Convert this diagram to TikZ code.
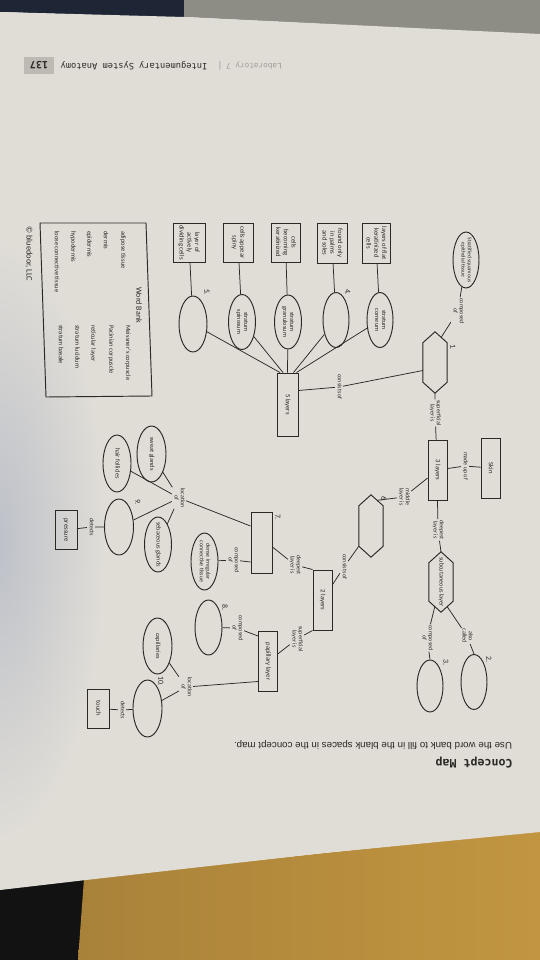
\documentclass[tikz,border=0pt]{standalone}
\usepackage{fontspec}
\usepackage{graphicx}
\setmainfont{Carlito}
\newfontfamily\monof{DejaVu Sans Mono}
\newfontfamily\sansf{Liberation Sans}
\usetikzlibrary{shapes.geometric,calc}
\definecolor{navyc}{HTML}{1E2636}
\definecolor{grayc}{HTML}{8D8C85}
\definecolor{blackc}{HTML}{121212}
\definecolor{woodA}{HTML}{A9823A}
\definecolor{woodB}{HTML}{C29640}
\definecolor{pageM}{HTML}{E0DDD7}
\definecolor{shadowc}{HTML}{BCC0C8}
\definecolor{inkc}{HTML}{2B2926}
\definecolor{pnc}{HTML}{BDBAB3}
\definecolor{labgray}{HTML}{A09D98}
\newcommand{\rtxt}[1]{\rotatebox{-90}{\begin{tabular}{@{}c@{}}#1\end{tabular}}}
\newcommand{\ztxt}[1]{\makebox[0pt][c]{\smash{\raisebox{\dimexpr(\depth-\height)/2\relax}{\rtxt{#1}}}}}
\newcommand{\hexdraw}[1]{\draw[shp] (#1.north) -- ([yshift=-11pt]#1.north east) -- ([yshift=11pt]#1.south east) -- (#1.south) -- ([yshift=11pt]#1.south west) -- ([yshift=-11pt]#1.north west) -- cycle;}
\tikzset{
 ln/.style={draw=inkc, line width=0.75pt},
 shp/.style={draw=inkc, line width=0.95pt},
 bx/.style={shp, rectangle, inner sep=0pt, font=\fontsize{6.6}{7.8}\selectfont, text=inkc},
 ov/.style={shp, ellipse, inner sep=0pt, font=\fontsize{6.3}{6.8}\selectfont, text=inkc},
 hx/.style={rectangle, inner sep=0pt, font=\fontsize{6.3}{7}\selectfont, text=inkc},
 lb/.style={inner sep=0.8pt, font=\fontsize{6}{6.2}\selectfont, text=inkc},
 num/.style={inner sep=0pt, font=\fontsize{7.8}{8}\selectfont, text=inkc},
 wb/.style={rotate=-90, anchor=west, inner sep=0pt, font=\fontsize{6.5}{7}\selectfont, text=inkc},
}
\begin{document}
\begin{tikzpicture}[x=1pt,y=-1pt]
\useasboundingbox (0,0) rectangle (540,960);
% ---------- background ----------
\fill[navyc] (0,0) -- (186,0) -- (186,18) -- (0,12) -- cycle;
\fill[grayc] (184,0) -- (540,0) -- (540,35) -- (184,17) -- cycle;
\fill[blackc] (0,886) -- (88,878) -- (80,960) -- (0,960) -- cycle;
\shade[left color=woodA, right color=woodB] (84,879) -- (324,853) -- (540,831) -- (540,960) -- (78,960) -- cycle;
\begin{scope}
\clip (0,12) -- (184,17) -- (540,34) -- (540,832) -- (324,853) -- (86,880) -- (0,890) -- cycle;
\fill[pageM] (0,0) rectangle (540,960);
\shade[inner color=shadowc, outer color=pageM] (-5,540) ellipse (110 and 300);
\end{scope}
% ---------- header ----------
\node[fill=pnc, minimum width=30pt, minimum height=17pt, inner sep=0pt, rotate=180, text=inkc, font=\monof\bfseries\fontsize{10}{10}\selectfont] (pg) at (39,65.5) {137};
\node[rotate=180, inner sep=0pt, text=inkc, font=\monof\fontsize{8.7}{9}\selectfont] (hdr) at (134,66) {Integumentary System Anatomy};
\node[rotate=180, inner sep=0pt, text=labgray, font=\monof\fontsize{8.7}{9}\selectfont] (bar) at (220,66) {|};
\node[rotate=180, inner sep=0pt, text=labgray, font=\monof\fontsize{7.7}{8}\selectfont] (lab) at (254,66) {Laboratory 7};
\node[rotate=180, inner sep=0pt, text=inkc] (title) at (474,763) {\resizebox{77pt}{!}{\monof\bfseries Concept Map}};
\node[rotate=180, inner sep=0pt, text=inkc] (instr) at (373,745) {\resizebox{278pt}{!}{\sansf Use the word bank to fill in the blank spaces in the concept map.}};
\node[rotate=-90, inner sep=0pt, text=inkc, font=\fontsize{8.4}{9}\selectfont] (copy) at (29,254) {© bluedoor, LLC};
% ---------- word bank ----------
\draw[shp] (40,223) -- (146,223) -- (152,396) -- (46,397) -- cycle;
\node[rotate=-90, inner sep=0pt, text=inkc, font=\fontsize{8}{8}\selectfont] (wbt) at (139,305) {Word Bank};
\node[wb] (w1) at (123,231) {adipose tissue};
\node[wb] (w2) at (106,231) {dermis};
\node[wb] (w3) at (89,231) {epidermis};
\node[wb] (w4) at (73,231) {hypodermis};
\node[wb] (w5) at (57,231) {loose connective tissue};
\node[wb] (w6) at (128,325) {Meissner's corpuscle};
\node[wb] (w7) at (111,325) {Pacinian corpuscle};
\node[wb] (w8) at (93,325) {reticular layer};
\node[wb] (w9) at (77.5,325) {stratum lucidum};
\node[wb] (w10) at (61,325) {stratum basale};
% ---------- top of map ----------
\node[bx, minimum width=19pt, minimum height=60pt] (skin) at (490.5,468) {\ztxt{Skin}};
\node[bx, minimum width=19pt, minimum height=60pt] (box3) at (437.5,470) {\ztxt{3 layers}};
\node[lb] (lmade) at (465,466) {\rtxt{made up of}};
\node[hx, minimum width=24pt, minimum height=61pt] (hex1) at (435,362.5) {};
\hexdraw{hex1}
\node[num] (n1) at (452,347) {\rtxt{1.}};
\node[lb] (lsup1) at (435,413) {\rtxt{superficial\\layer is}};
\node[ov, minimum width=26pt, minimum height=56pt, font=\fontsize{5.5}{6.2}\selectfont] (sq) at (466,260) {\ztxt{Stratified squamous\\epithelial tissue}};
\node[lb] (lcomp1) at (458,311) {\rtxt{composed\\of}};
\node[lb] (lcons1) at (339,387) {\rtxt{consists of}};
\node[bx, minimum width=21pt, minimum height=63pt] (box5) at (287.5,404.5) {\ztxt{5 layers}};
% ovals of the epidermis
\node[ov, minimum width=28pt, minimum height=56pt] (o5) at (193,324) {};
\node[ov, minimum width=27pt, minimum height=55pt] (osp) at (242,322) {\ztxt{stratum\\spinosum}};
\node[ov, minimum width=27pt, minimum height=54pt] (ogr) at (288,322) {\ztxt{stratum\\granulosum}};
\node[ov, minimum width=26pt, minimum height=55pt] (o4) at (336,320) {};
\node[ov, minimum width=26pt, minimum height=55pt] (oco) at (380,320) {\ztxt{stratum\\corneum}};
\node[num] (n5) at (206,292) {\rtxt{5.}};
\node[num] (n4) at (347,292) {\rtxt{4.}};
% description boxes
\node[bx, minimum width=32pt, minimum height=39pt] (b5) at (189,242.5) {\ztxt{layer of\\actively\\dividing cells}};
\node[bx, minimum width=30pt, minimum height=39pt] (bsp) at (238,242.5) {\ztxt{cells appear\\spiny}};
\node[bx, minimum width=29pt, minimum height=39pt] (bgr) at (285.5,242.5) {\ztxt{cells\\becoming\\keratinized}};
\node[bx, minimum width=30pt, minimum height=40pt] (b4) at (332,243) {\ztxt{found only\\in palms\\and soles}};
\node[bx, minimum width=28pt, minimum height=40pt] (bco) at (376,243) {\ztxt{layers of flat\\keratinized\\cells}};
% middle layer
\node[lb] (lmid) at (404,497) {\rtxt{middle\\layer is}};
\node[hx, minimum width=24pt, minimum height=62pt] (hex6) at (371,526) {};
\hexdraw{hex6}
\node[num] (n6) at (383,499) {\rtxt{6.}};
\node[lb] (lcons2) at (344,567) {\rtxt{consists of}};
\node[bx, minimum width=19pt, minimum height=60pt] (box2) at (322.5,600) {\ztxt{2 layers}};
% deepest layer
\node[lb] (ldeep1) at (438,530) {\rtxt{deepest\\layer is}};
\node[hx, minimum width=24pt, minimum height=60pt] (hexS) at (441,582) {\ztxt{subcutaneous layer}};
\hexdraw{hexS}
\node[lb] (lalso) at (467,636) {\rtxt{also\\called}};
\node[ov, minimum width=26pt, minimum height=55pt] (o2) at (474,682) {};
\node[num] (n2) at (488,659) {\rtxt{2.}};
\node[lb] (lcomp2) at (427,638) {\rtxt{composed\\of}};
\node[ov, minimum width=26pt, minimum height=52pt] (o3) at (430,686) {};
\node[num] (n3) at (445,662) {\rtxt{3.}};
% reticular branch
\node[lb] (ldeep2) at (295,565) {\rtxt{deepest\\layer is}};
\node[bx, minimum width=21pt, minimum height=61pt] (box7) at (261.5,543) {};
\node[num] (n7) at (277,517) {\rtxt{7.}};
\node[lb] (lcomp3) at (233,560) {\rtxt{composed\\of}};
\node[ov, minimum width=27pt, minimum height=57pt, font=\fontsize{5.9}{6.5}\selectfont] (dense) at (204.5,561.5) {\ztxt{dense irregular\\connective tissue}};
\node[lb] (lloc1) at (179,498) {\rtxt{location\\of}};
\node[ov, minimum width=29pt, minimum height=56pt] (sweat) at (151.5,454) {\ztxt{sweat glands}};
\node[ov, minimum width=28pt, minimum height=57pt] (hair) at (117,463.5) {\ztxt{hair follicles}};
\node[ov, minimum width=29pt, minimum height=56pt] (o9) at (119,527) {};
\node[num] (n9) at (137,502) {\rtxt{9.}};
\node[ov, minimum width=27pt, minimum height=55pt] (seb) at (158,544.5) {\ztxt{sebaceous glands}};
\node[lb] (ldet1) at (91,527) {\rtxt{detects}};
\node[bx, minimum width=22pt, minimum height=39pt] (press) at (66,530) {\ztxt{pressure}};
% papillary branch
\node[lb] (lsup2) at (297,639) {\rtxt{superficial\\layer is}};
\node[bx, minimum width=19pt, minimum height=60pt] (pap) at (268,661.5) {\ztxt{papillary layer}};
\node[lb] (lcomp4) at (237,628) {\rtxt{composed\\of}};
\node[ov, minimum width=27pt, minimum height=55pt] (o8) at (208.5,627.5) {};
\node[num] (n8) at (224,607) {\rtxt{8.}};
\node[lb] (lloc2) at (186,687) {\rtxt{location\\of}};
\node[ov, minimum width=29pt, minimum height=56pt] (cap) at (157.5,646) {\ztxt{capillaries}};
\node[ov, minimum width=29pt, minimum height=57pt] (o10) at (147.5,708.5) {};
\node[num] (n10) at (160,681) {\rtxt{10.}};
\node[lb] (ldet2) at (122,710) {\rtxt{detects}};
\node[bx, minimum width=22pt, minimum height=39pt] (touch) at (98,708.5) {\ztxt{touch}};
% ---------- connectors ----------
\draw[ln] (sq) -- (lcomp1);
\draw[ln] (lcomp1) -- ([xshift=-6pt,yshift=-5.5pt]hex1.north east);
\draw[ln] (hex1.south) -- (lsup1) -- (box3);
\draw[ln] (skin) -- (lmade) -- (box3);
\draw[ln] ([yshift=-8pt]hex1.west) -- (lcons1) -- ([yshift=14pt]box5.east);
\draw[ln] (o5) -- ([xshift=-7.5pt]box5.north);
\draw[ln] (osp) -- ([xshift=-4.5pt]box5.north);
\draw[ln] (ogr) -- (box5.north);
\draw[ln] (o4) -- ([xshift=6pt]box5.north);
\draw[ln] (oco) -- ([xshift=9pt]box5.north);
\draw[ln] (b5) -- (o5);
\draw[ln] (bsp) -- (osp);
\draw[ln] (bgr) -- (ogr);
\draw[ln] (b4) -- (o4);
\draw[ln] (bco) -- (oco);
\draw[ln] (box3) -- (lmid) -- ([xshift=-6pt,yshift=-5.5pt]hex6.north east);
\draw[ln] ([yshift=11pt]hex6.south west) -- (lcons2) -- (box2);
\draw[ln] (box3.south) -- (ldeep1) -- (hexS.north);
\draw[ln] ([xshift=-6pt,yshift=5.5pt]hexS.south east) -- (lalso) -- (o2.north);
\draw[ln] ([xshift=6pt,yshift=5.5pt]hexS.south west) -- (lcomp2) -- (o3.north);
\draw[ln] (box2.north west) -- (ldeep2) -- ([yshift=-4pt]box7.east);
\draw[ln] ([yshift=-19pt]box7.west) -- (lcomp3) -- (dense);
\draw[ln] ([yshift=-14pt]box7.north west) -- (lloc1);
\draw[ln] (lloc1) -- (sweat);
\draw[ln] (lloc1) -- (hair);
\draw[ln] (lloc1) -- (o9);
\draw[ln] (lloc1) -- (seb);
\draw[ln] (o9) -- (ldet1) -- (press);
\draw[ln] (box2.south west) -- (lsup2) -- (pap);
\draw[ln] ([yshift=-5pt]pap.north west) -- (lcomp4) -- (o8);
\draw[ln] ([yshift=-20pt]pap.west) -- (lloc2);
\draw[ln] (lloc2) -- (cap);
\draw[ln] (lloc2) -- (o10);
\draw[ln] (o10) -- (ldet2) -- (touch);
\end{tikzpicture}
\end{document}
